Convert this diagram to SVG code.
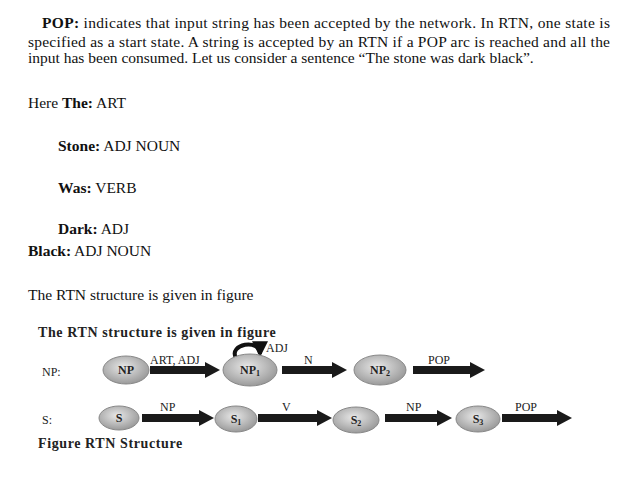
<svg xmlns="http://www.w3.org/2000/svg" width="638" height="478" viewBox="0 0 638 478">
<defs>
<style>
.t{font-family:"Liberation Serif",serif;font-size:15.5px;fill:#111}
.f{font-family:"Liberation Serif",serif;font-size:12px;fill:#222}
.fb{font-family:"Liberation Serif",serif;font-size:14px;font-weight:bold;fill:#222;letter-spacing:0.6px}
.n{fill:url(#g);stroke:#888;stroke-width:1}
.a{fill:#1a1a1a}
</style>
<radialGradient id="g" cx="45%" cy="40%" r="60%"><stop offset="0" stop-color="#e8e8e8"/><stop offset="1" stop-color="#9a9a9a"/></radialGradient>
<marker id="m" viewBox="0 0 10 10" refX="8" refY="5" markerWidth="4" markerHeight="4" orient="auto"><path d="M0,0L10,5L0,10z" fill="#111"/></marker>
</defs>
<rect width="638" height="478" fill="#fff"/>
<text class="t" x="42" y="28" textLength="568" lengthAdjust="spacing"><tspan font-weight="bold">POP:</tspan> indicates that input string has been accepted by the network. In RTN, one state is</text>
<text class="t" x="28" y="47" textLength="582" lengthAdjust="spacing">specified as a start state. A string is accepted by an RTN if a POP arc is reached and all the</text>
<text class="t" x="28" y="63">input has been consumed. Let us consider a sentence “The stone was dark black”.</text>
<text class="t" x="28" y="108">Here  <tspan font-weight="bold">The:</tspan> ART</text>
<text class="t" x="58" y="151"><tspan font-weight="bold">Stone:</tspan> ADJ NOUN</text>
<text class="t" x="58" y="193"><tspan font-weight="bold">Was:</tspan> VERB</text>
<text class="t" x="58" y="234"><tspan font-weight="bold">Dark:</tspan> ADJ</text>
<text class="t" x="28" y="256"><tspan font-weight="bold">Black:</tspan> ADJ NOUN</text>
<text class="t" x="28" y="300">The RTN structure is given in figure</text>
<text class="fb" x="38" y="337">The RTN structure is given in figure</text>
<text class="fb" x="38" y="448">Figure   RTN Structure</text>
<text class="f" x="42" y="376">NP:</text>
<text class="f" x="42" y="424">S:</text>
<g id="connectors">
<g class="a">
<path d="M150,366H205V362L220,370L205,378V374H150z"/>
<path d="M282,366H332V362L347,370L332,378V374H282z"/>
<path d="M413,366H470V362L485,370L470,378V374H413z"/>
<path d="M142,414H199V410L214,418L199,426V422H142z"/>
<path d="M258,414H317V410L332,418L317,426V422H258z"/>
<path d="M385,414H437V410L452,418L437,426V422H385z"/>
<path d="M502,414H557V410L572,418L557,426V422H502z"/>
</g>
<path d="M236,358C228,344 260,338 260,354" fill="none" stroke="#111" stroke-width="4" marker-end="url(#m)"/>
<text class="f" x="150" y="364">ART, ADJ</text>
<text class="f" x="266" y="352">ADJ</text>
<text class="f" x="304" y="364">N</text>
<text class="f" x="428" y="364">POP</text>
<text class="f" x="160" y="411">NP</text>
<text class="f" x="282" y="411">V</text>
<text class="f" x="406" y="411">NP</text>
<text class="f" x="515" y="411">POP</text>
</g>
<g id="NP"><ellipse class="n" cx="126" cy="370" rx="23" ry="14"/><text class="f" x="126" y="374" text-anchor="middle" font-weight="bold">NP</text></g>
<g id="NP1"><ellipse class="n" cx="250" cy="370" rx="27" ry="16"/><text class="f" x="250" y="374" text-anchor="middle" font-weight="bold">NP<tspan font-size="8" dy="2">1</tspan></text></g>
<g id="NP2"><ellipse class="n" cx="380" cy="370" rx="26" ry="15"/><text class="f" x="380" y="374" text-anchor="middle" font-weight="bold">NP<tspan font-size="8" dy="2">2</tspan></text></g>
<g id="S"><ellipse class="n" cx="119" cy="418" rx="20" ry="12"/><text class="f" x="119" y="422" text-anchor="middle" font-weight="bold">S</text></g>
<g id="S1"><ellipse class="n" cx="236" cy="419" rx="21" ry="13"/><text class="f" x="236" y="423" text-anchor="middle" font-weight="bold">S<tspan font-size="8" dy="2">1</tspan></text></g>
<g id="S2"><ellipse class="n" cx="356" cy="420" rx="23" ry="13"/><text class="f" x="356" y="424" text-anchor="middle" font-weight="bold">S<tspan font-size="8" dy="2">2</tspan></text></g>
<g id="S3"><ellipse class="n" cx="478" cy="419" rx="22" ry="13"/><text class="f" x="478" y="423" text-anchor="middle" font-weight="bold">S<tspan font-size="8" dy="2">3</tspan></text></g>
</svg>
